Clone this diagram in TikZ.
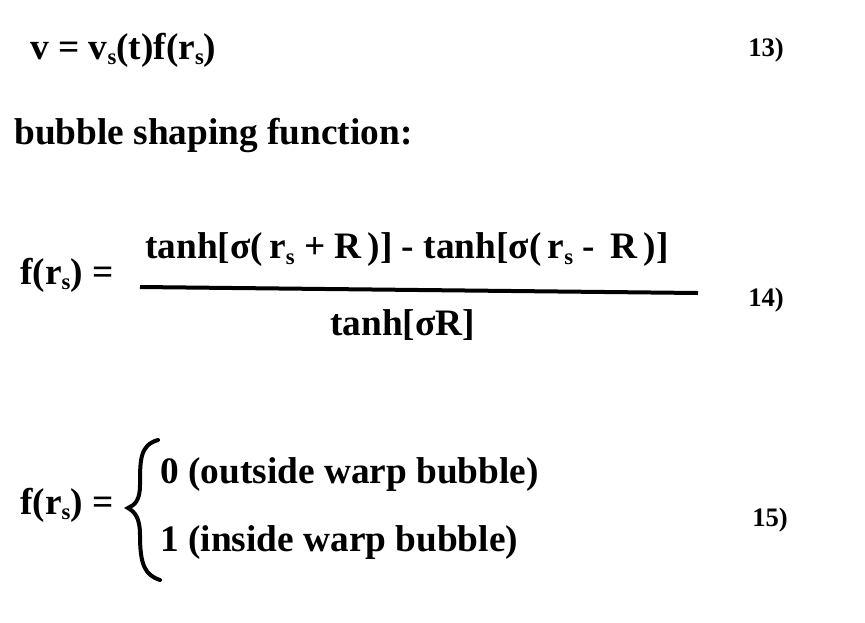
\documentclass[tikz,border=0pt]{standalone}
\usepackage{fontspec}
\setmainfont{Liberation Serif}
\begin{document}
\begin{tikzpicture}[x=0.75pt,y=-0.75pt,
  eq/.style={anchor=west,inner sep=0pt,font=\bfseries\fontsize{28}{32}\selectfont},
  num/.style={anchor=west,inner sep=0pt,font=\bfseries\fontsize{20}{24}\selectfont}]
\useasboundingbox (0,0) rectangle (865,622);
\newcommand{\rs}{r\raisebox{-0.3ex}{\fontsize{17}{20}\selectfont s}}
\node[eq] (e13) at (30,50) {v = v\raisebox{-0.3ex}{\fontsize{17}{20}\selectfont s}(t)f(\rs)};
\node[num] (n13) at (748,50) {13)};
\node[eq] (title) at (14,135) {bubble shaping function:};
\node[eq] (f14) at (20,275) {f(\rs) =};
\node[eq] (numr) at (145,250) {tanh[σ(\,\rs\ + R\,)] - tanh[σ(\,\rs\ -\, R\,)]};
\draw[line width=3pt] (140,287) -- (698,293);
\node[eq] (den) at (330,325) {tanh[σR]};
\node[num] (n14) at (748,300) {14)};
\node[eq] (f15) at (20,505) {f(\rs) =};
\draw[line width=3pt,line cap=round] (158,440) .. controls (140,445) and (140,460) .. (140,485)
  .. controls (140,500) and (135,505) .. (128,508)
  .. controls (135,512) and (140,518) .. (140,535)
  .. controls (140,565) and (145,575) .. (160,580);
\node[eq] (c0) at (160,475) {0 (outside warp bubble)};
\node[eq] (c1) at (160,543) {1 (inside warp bubble)};
\node[num] (n15) at (752,520) {15)};
\end{tikzpicture}
\end{document}
